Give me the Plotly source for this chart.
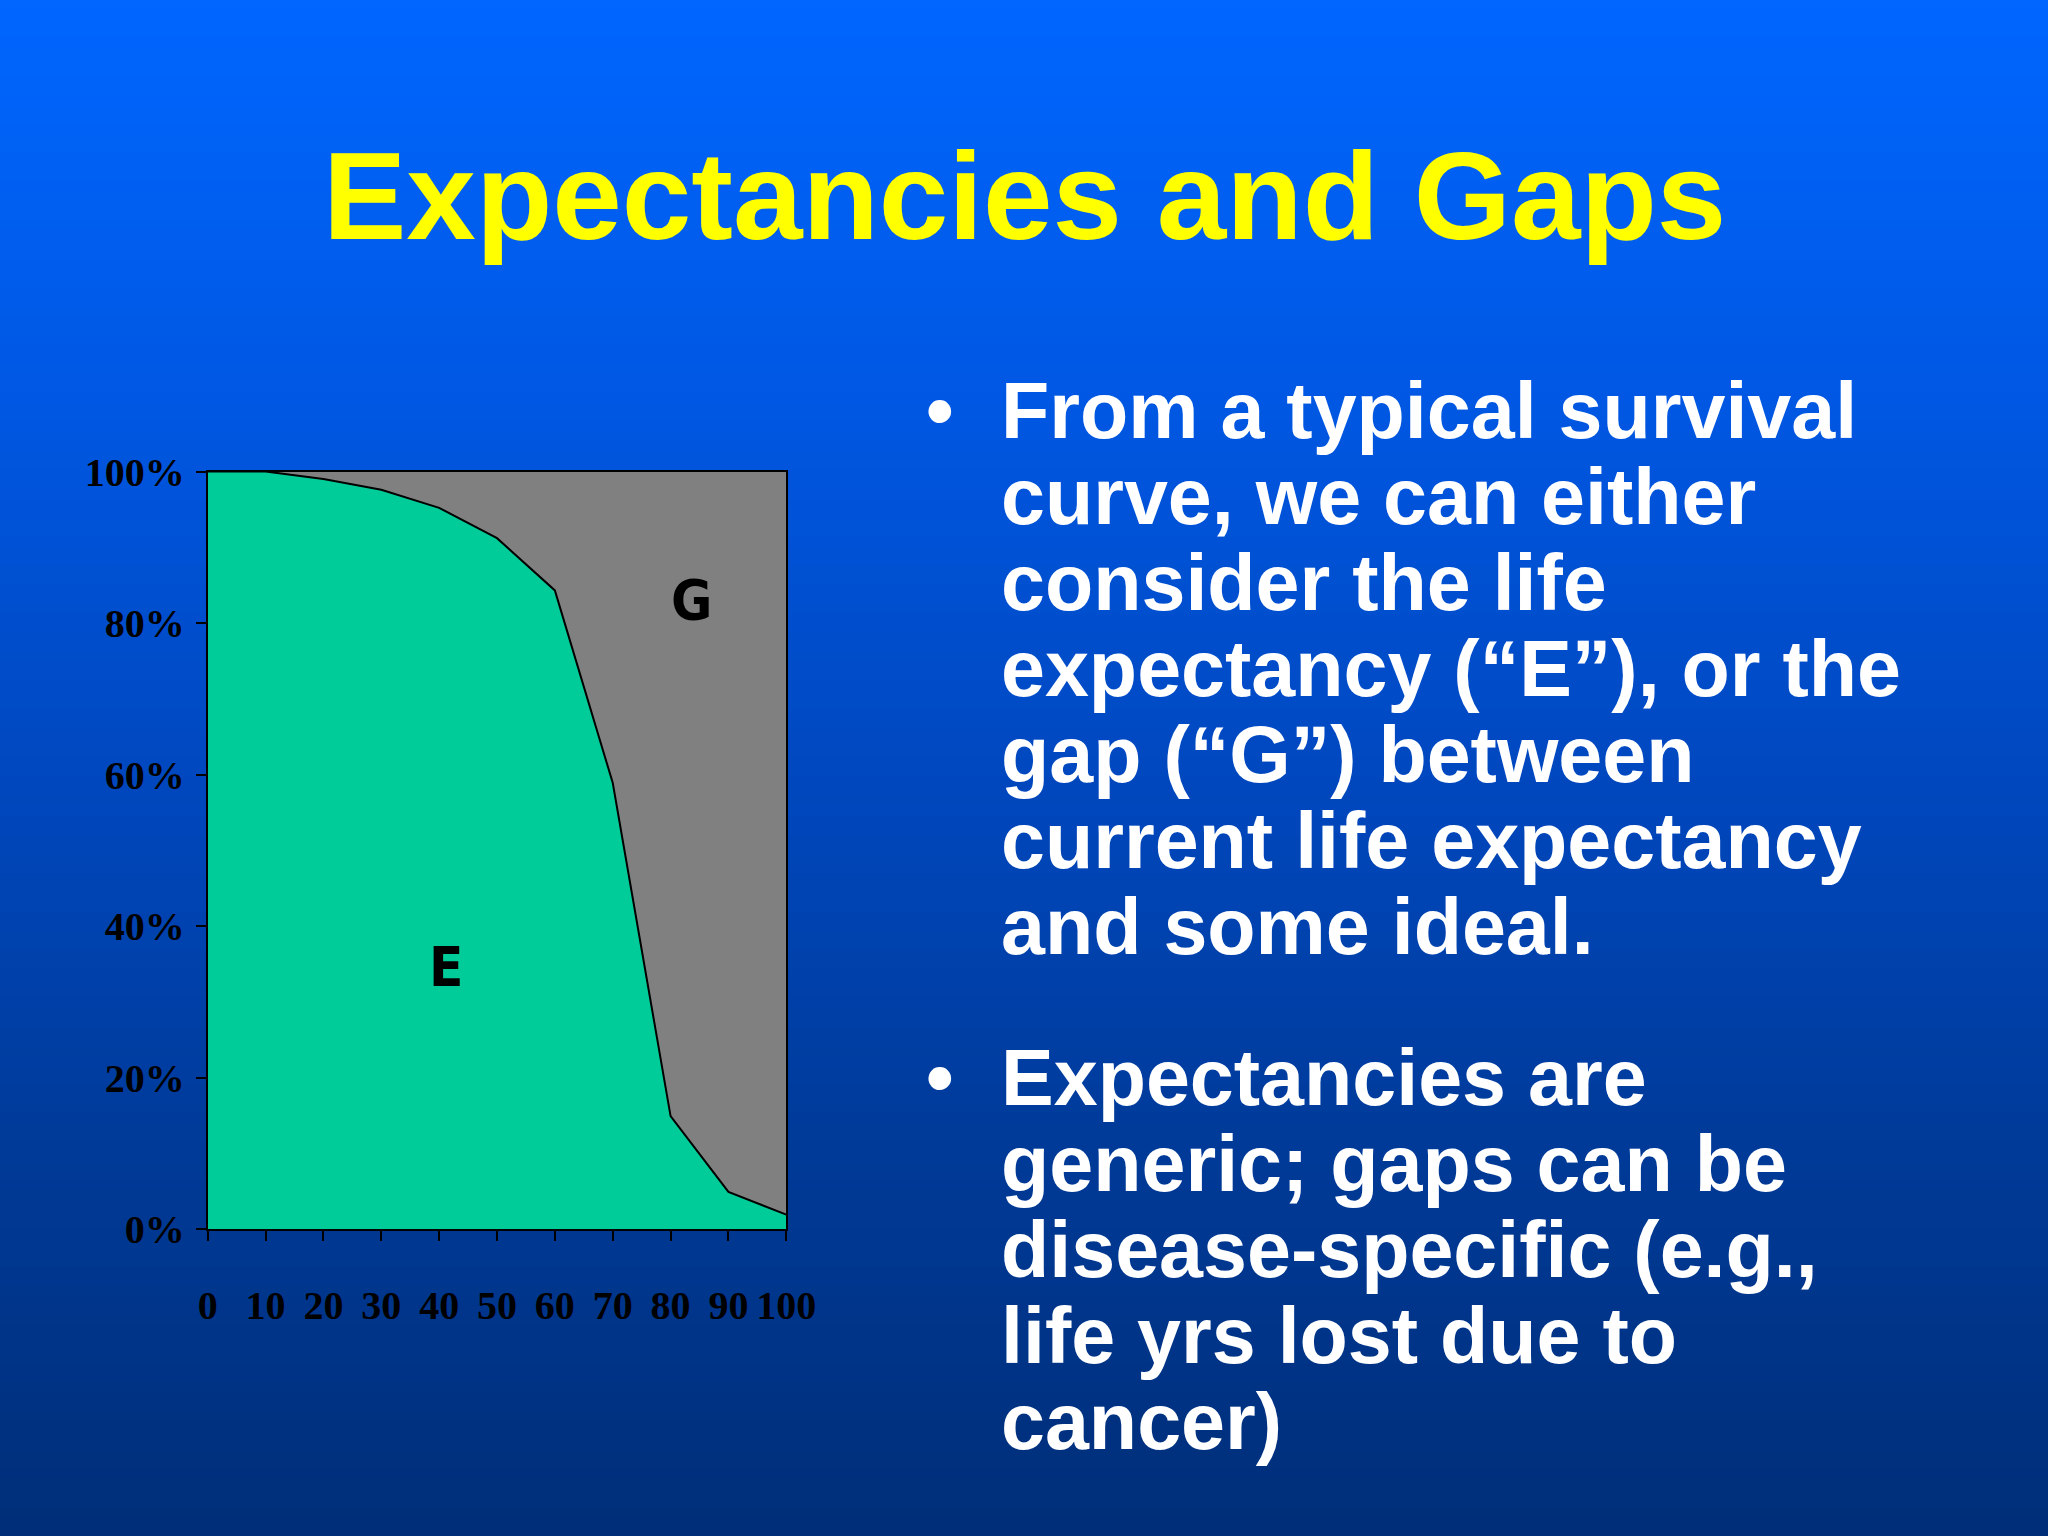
import plotly.graph_objects as go

# ---------------- data ----------------
ages = [0, 10, 20, 30, 40, 50, 60, 70, 80, 90, 100]
survival_pct = [100, 100, 99.0, 97.6, 95.2, 91.2, 84.3, 58.9, 14.9, 4.9, 1.9]
ideal_pct = [100, 100, 100, 100, 100, 100, 100, 100, 100, 100, 100]
x_ticks = [0, 10, 20, 30, 40, 50, 60, 70, 80, 90, 100]
y_ticks = [0, 20, 40, 60, 80, 100]

title_text = "Expectancies and Gaps"
bullet1_lines = [
    "From a typical survival",
    "curve, we can either",
    "consider the life",
    "expectancy (\u201cE\u201d), or the",
    "gap (\u201cG\u201d) between",
    "current life expectancy",
    "and some ideal.",
]
bullet2_lines = [
    "Expectancies are",
    "generic; gaps can be",
    "disease-specific (e.g.,",
    "life yrs lost due to",
    "cancer)",
]

# ---------------- layout constants ----------------
W, H = 2048, 1536
plot_left, plot_right = 207.7, 786.3
plot_top, plot_bottom = 471.5, 1229.0

GREEN = "#00CC99"
GRAY = "#808080"

fig = go.Figure()
fig.add_trace(go.Scatter(
    x=ages, y=ideal_pct, mode="lines", fill="tozeroy",
    fillcolor=GRAY, line=dict(width=0, color=GRAY),
    hoverinfo="skip", showlegend=False,
))
fig.add_trace(go.Scatter(
    x=ages, y=survival_pct, mode="lines", fill="tozeroy",
    fillcolor=GREEN, line=dict(width=2, color="black"),
    hoverinfo="skip", showlegend=False,
))

# background gradient as horizontal bands
stops = [(0.0, (0, 102, 255)), (0.25, (0, 88, 228)), (0.5, (0, 72, 192)),
         (0.75, (0, 58, 152)), (1.0, (0, 46, 120))]


def grad(t):
    for (t0, c0), (t1, c1) in zip(stops[:-1], stops[1:]):
        if t <= t1:
            f = (t - t0) / (t1 - t0) if t1 > t0 else 0
            return tuple(round(a + (b - a) * f) for a, b in zip(c0, c1))
    return stops[-1][1]


shapes = []
N = 160
for i in range(N):
    t = (i + 0.5) / N
    r, g, b = grad(t)
    y1 = 1 - i / N
    y0 = 1 - (i + 1) / N - 0.002
    if i == 0:
        y1 = 1.2
    if i == N - 1:
        y0 = -0.2
    shapes.append(dict(type="rect", xref="paper", yref="paper",
                       x0=-0.2, x1=1.2, y0=y0, y1=y1, layer="below",
                       line=dict(width=0), fillcolor=f"rgb({r},{g},{b})"))


def py(px):
    return 1 - px / H


def pxx(px):
    return px / W


annotations = []
# title
annotations.append(dict(
    text=f"<b>{title_text}</b>", xref="paper", yref="paper",
    x=pxx(1024), y=py(239 - 0.35 * 125), xanchor="center", yanchor="middle",
    showarrow=False, font=dict(family="Liberation Sans, Arial", size=125, color="#FFFF00"),
))

FS = 79
TX = 999
BX = 940


def add_bullet(lines, base0):
    annotations.append(dict(
        text="<b>\u2022</b>", xref="paper", yref="paper",
        x=pxx(BX), y=py(base0 - 0.35 * FS), xanchor="center", yanchor="middle",
        showarrow=False, font=dict(family="Liberation Sans, Arial", size=FS, color="white"),
    ))
    for i, line in enumerate(lines):
        base = base0 + 86 * i
        annotations.append(dict(
            text=f"<b>{line}</b>", xref="paper", yref="paper",
            x=pxx(TX), y=py(base - 0.35 * FS), xanchor="left", yanchor="middle",
            showarrow=False, font=dict(family="Liberation Sans, Arial", size=FS, color="white"),
        ))


add_bullet(bullet1_lines, 438)
add_bullet(bullet2_lines, 1105)

# region labels
label_font = dict(family="Liberation Sans Narrow, DejaVu Sans Condensed, Liberation Sans",
                  size=56, color="black")
annotations.append(dict(text="<b>E</b>", x=41.1, y=34.7, xref="x", yref="y",
                        showarrow=False, font=label_font))
annotations.append(dict(text="<b>G</b>", x=83.7, y=83.1, xref="x", yref="y",
                        showarrow=False, font=label_font))

tick_font = dict(family="Liberation Serif, Times New Roman", size=40, color="black", weight="bold")

fig.update_layout(
    width=W, height=H, autosize=False,
    margin=dict(l=0, r=0, t=0, b=0, pad=0, autoexpand=False),
    paper_bgcolor="rgb(0,72,192)",
    plot_bgcolor="rgba(0,0,0,0)",
    shapes=shapes,
    annotations=annotations,
    showlegend=False,
    xaxis=dict(
        domain=[plot_left / W, plot_right / W], automargin=False,
        range=[0, 100], tickmode="array", tickvals=x_ticks,
        ticktext=[str(v) for v in x_ticks],
        showgrid=False, zeroline=False,
        showline=True, linecolor="black", linewidth=2, mirror=True,
        ticks="outside", ticklen=10, tickwidth=2, tickcolor="black",
        tickfont=tick_font, ticklabelstandoff=30,
        fixedrange=True,
    ),
    yaxis=dict(
        domain=[1 - plot_bottom / H, 1 - plot_top / H], automargin=False,
        range=[0, 100], tickmode="array", tickvals=y_ticks,
        ticktext=[f"{v}%" for v in y_ticks],
        showgrid=False, zeroline=False,
        showline=True, linecolor="black", linewidth=2, mirror=True,
        ticks="outside", ticklen=10, tickwidth=2, tickcolor="black",
        tickfont=tick_font, ticklabelstandoff=3,
        fixedrange=True,
    ),
)

post = ("document.body.style.margin='0';document.body.style.padding='0';"
        "document.body.style.overflow='hidden';"
        "document.body.style.background='rgb(0,72,192)';")

fig.write_html("out.html", config={"displayModeBar": False}, post_script=post)
